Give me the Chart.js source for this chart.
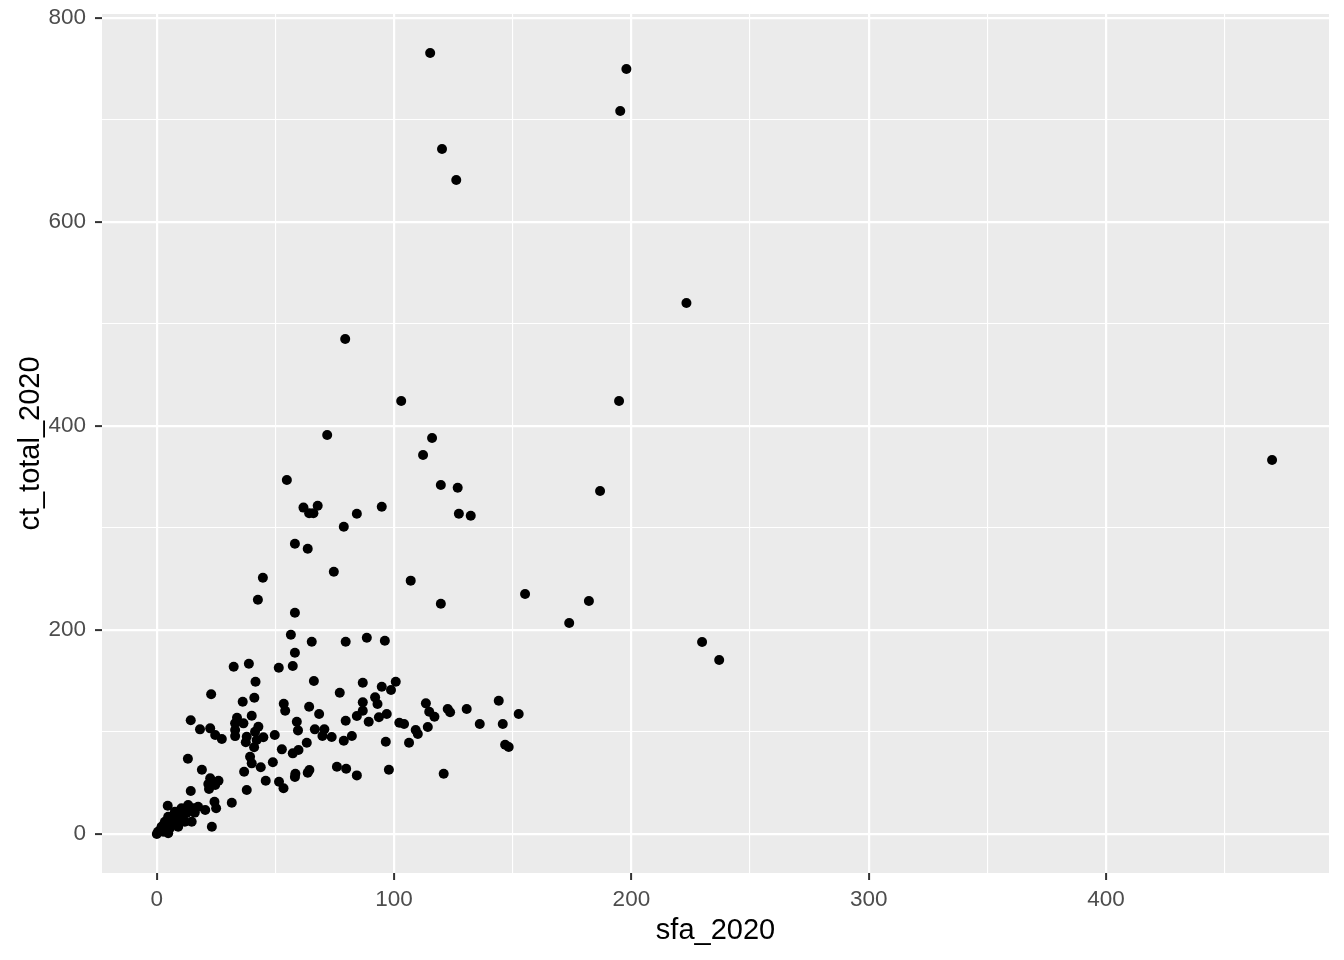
<!DOCTYPE html>
<html>
<head>
<meta charset="utf-8">
<title>sfa_2020 vs ct_total_2020</title>
<script src="https://cdn.jsdelivr.net/npm/chart.js@4.4.1/dist/chart.umd.min.js"></script>
<style>
html, body { margin: 0; padding: 0; background: #ffffff; }
canvas { display: block; }
</style>
</head>
<body>
<canvas id="scatterChart" width="1344" height="960"></canvas>
<script>
// values
const sfa2020 = [
  115.2, 197.9, 195.3, 120.2, 126.2, 223.2, 79.4, 103.0, 194.8, 470.0,
  71.8, 116.0, 112.2, 54.8, 119.7, 126.8, 186.8, 94.8, 61.8, 67.8,
  64.2, 66.0, 84.3, 127.3, 132.3, 78.8, 58.2, 63.6, 74.6, 44.7,
  107.0, 42.6, 155.2, 182.1, 119.7, 58.2, 173.8, 229.8, 237.0, 56.5,
  65.3, 79.6, 88.5, 96.1, 58.2, 38.8, 32.4, 51.4, 57.3, 41.6,
  22.9, 36.2, 41.1, 53.5, 54.1, 40.0, 59.0, 14.3, 33.8, 33.0,
  36.5, 18.2, 22.5, 24.6, 27.4, 33.0, 33.0, 42.8, 41.4, 37.9,
  44.9, 37.5, 42.1, 41.0, 49.7, 59.5, 52.7, 57.3, 59.7, 39.3,
  40.0, 13.1, 48.9, 43.8, 36.8, 19.0, 58.4, 58.2, 22.5, 26.0,
  21.7, 24.6, 22.0, 45.9, 51.5, 53.4, 37.9, 14.3, 24.3, 25.0,
  31.6, 20.4, 4.6, 14.7, 23.2, 66.2, 86.8, 100.7, 77.1, 94.8,
  98.7, 64.2, 68.4, 86.8, 92.0, 93.0, 86.8, 84.3, 79.6, 89.3,
  93.6, 96.9, 66.6, 70.6, 69.8, 73.7, 78.8, 82.2, 63.2, 96.5,
  102.2, 104.2, 113.4, 114.8, 117.0, 122.6, 123.6, 130.6, 144.1, 152.5,
  136.1, 145.8, 109.1, 110.0, 114.2, 106.3, 146.8, 148.3, 75.9, 79.8,
  84.3, 97.8, 120.9, 64.3, 63.6,
  0.0, 0.5, 2.0, 3.4, 2.7, 5.5, 4.8, 6.9, 7.6, 9.7,
  10.4, 12.5, 13.2, 15.3, 17.4, 9.0, 11.8, 4.8, 1.5, 6.0,
  8.3, 11.0, 14.0, 3.0, 7.5, 10.0, 16.0, 5.0
];

const ctTotal2020 = [
  765.7, 750.0, 708.8, 671.6, 641.2, 520.6, 485.3, 424.5, 424.5, 366.7,
  391.2, 388.2, 371.6, 347.0, 342.2, 339.5, 336.3, 320.9, 320.0, 321.9,
  314.4, 314.4, 314.0, 314.0, 312.0, 301.3, 284.6, 279.7, 257.2, 251.3,
  248.4, 229.7, 235.3, 228.4, 225.8, 217.0, 206.9, 188.2, 170.6, 195.4,
  188.5, 188.5, 192.5, 189.5, 177.7, 167.0, 164.0, 163.0, 164.7, 149.3,
  137.0, 129.7, 133.6, 127.7, 120.9, 116.0, 110.0, 111.5, 114.0, 108.5,
  108.5, 102.6, 103.6, 97.0, 93.1, 102.0, 96.0, 105.2, 100.3, 95.4,
  94.8, 89.9, 92.2, 85.0, 97.1, 101.6, 83.0, 79.1, 82.4, 75.8,
  69.3, 73.8, 70.3, 65.4, 61.1, 63.0, 59.0, 56.0, 54.6, 52.3,
  49.0, 48.0, 44.1, 52.3, 51.3, 44.8, 43.1, 42.2, 31.7, 25.2,
  30.7, 23.5, 27.7, 12.1, 7.2, 150.0, 148.3, 149.3, 138.5, 144.4,
  141.2, 124.8, 117.6, 129.1, 134.0, 127.5, 120.9, 115.7, 111.1, 110.1,
  114.4, 117.6, 102.6, 102.6, 96.1, 95.1, 91.5, 96.1, 89.5, 90.5,
  109.1, 107.8, 128.1, 119.9, 115.0, 122.5, 119.3, 122.5, 130.7, 117.6,
  107.8, 107.8, 102.0, 98.0, 104.9, 89.5, 87.5, 85.3, 66.0, 64.0,
  57.5, 63.0, 59.1, 62.7, 60.1,
  0.0, 2.3, 7.2, 12.0, 2.3, 5.6, 17.0, 10.5, 21.9, 15.4,
  25.2, 20.3, 28.4, 25.2, 26.8, 7.2, 12.0, 0.7, 4.0, 14.0,
  18.0, 22.0, 23.0, 9.0, 14.0, 18.5, 21.0, 9.5
];

const xTicks = [0, 50, 100, 150, 200, 250, 300, 350, 400, 450];
const xLabels = [0, 100, 200, 300, 400];
const yTicks = [0, 100, 200, 300, 400, 500, 600, 700, 800];
const yLabels = [0, 200, 400, 600, 800];

const points = sfa2020.map((x, i) => ({ x: x, y: ctTotal2020[i] }));

const fontFamily = "'Liberation Sans', Arial, sans-serif";

// grey panel behind the grid
const panelBackground = {
  id: 'panelBackground',
  beforeDraw(chart) {
    const { ctx, chartArea } = chart;
    ctx.save();
    ctx.fillStyle = '#EBEBEB';
    ctx.fillRect(chartArea.left, chartArea.top, chartArea.right - chartArea.left, chartArea.bottom - chartArea.top);
    ctx.restore();
  }
};

function gridFor(labels) {
  return {
    color: '#FFFFFF',
    lineWidth: (c) => labels.includes(c.tick.value) ? 2.2 : 1.1,
    drawTicks: true,
    tickLength: 7,
    tickWidth: 2,
    tickColor: (c) => labels.includes(c.tick.value) ? '#333333' : 'rgba(0,0,0,0)'
  };
}

new Chart(document.getElementById('scatterChart'), {
  type: 'scatter',
  data: {
    datasets: [{
      label: 'ct_total_2020',
      data: points,
      backgroundColor: '#000000',
      borderWidth: 0,
      pointRadius: 5,
      pointHoverRadius: 5
    }]
  },
  options: {
    responsive: false,
    animation: false,
    devicePixelRatio: 1,
    layout: { padding: { top: 14, right: 15, left: 0, bottom: 0 } },
    plugins: {
      legend: { display: false },
      tooltip: { enabled: false }
    },
    scales: {
      x: {
        type: 'linear',
        min: -23.1,
        max: 494,
        afterBuildTicks: (scale) => { scale.ticks = xTicks.map(v => ({ value: v })); },
        afterFit: (scale) => {
          scale.height = 87;
          scale.paddingLeft = 0;
          scale.paddingRight = 0;
        },
        border: { display: false },
        grid: gridFor(xLabels),
        ticks: {
          autoSkip: false,
          maxRotation: 0,
          padding: 6,
          color: '#4D4D4D',
          font: { family: fontFamily, size: 22.5 },
          callback: (v) => xLabels.includes(v) ? String(v) : ''
        },
        title: {
          display: true,
          text: 'sfa_2020',
          color: '#000000',
          font: { family: fontFamily, size: 29 },
          padding: { top: 0, bottom: 12 }
        }
      },
      y: {
        type: 'linear',
        min: -38.2,
        max: 803.9,
        afterBuildTicks: (scale) => { scale.ticks = yTicks.map(v => ({ value: v })); },
        afterFit: (scale) => {
          scale.width = 102;
          scale.paddingTop = 0;
          scale.paddingBottom = 0;
        },
        border: { display: false },
        grid: gridFor(yLabels),
        ticks: {
          autoSkip: false,
          padding: 9,
          color: '#4D4D4D',
          font: { family: fontFamily, size: 22.5 },
          callback: (v) => yLabels.includes(v) ? String(v) : ''
        },
        title: {
          display: true,
          text: 'ct_total_2020',
          color: '#000000',
          font: { family: fontFamily, size: 29 },
          padding: { top: 14, bottom: 0 }
        }
      }
    }
  },
  plugins: [panelBackground]
});
</script>
</body>
</html>
